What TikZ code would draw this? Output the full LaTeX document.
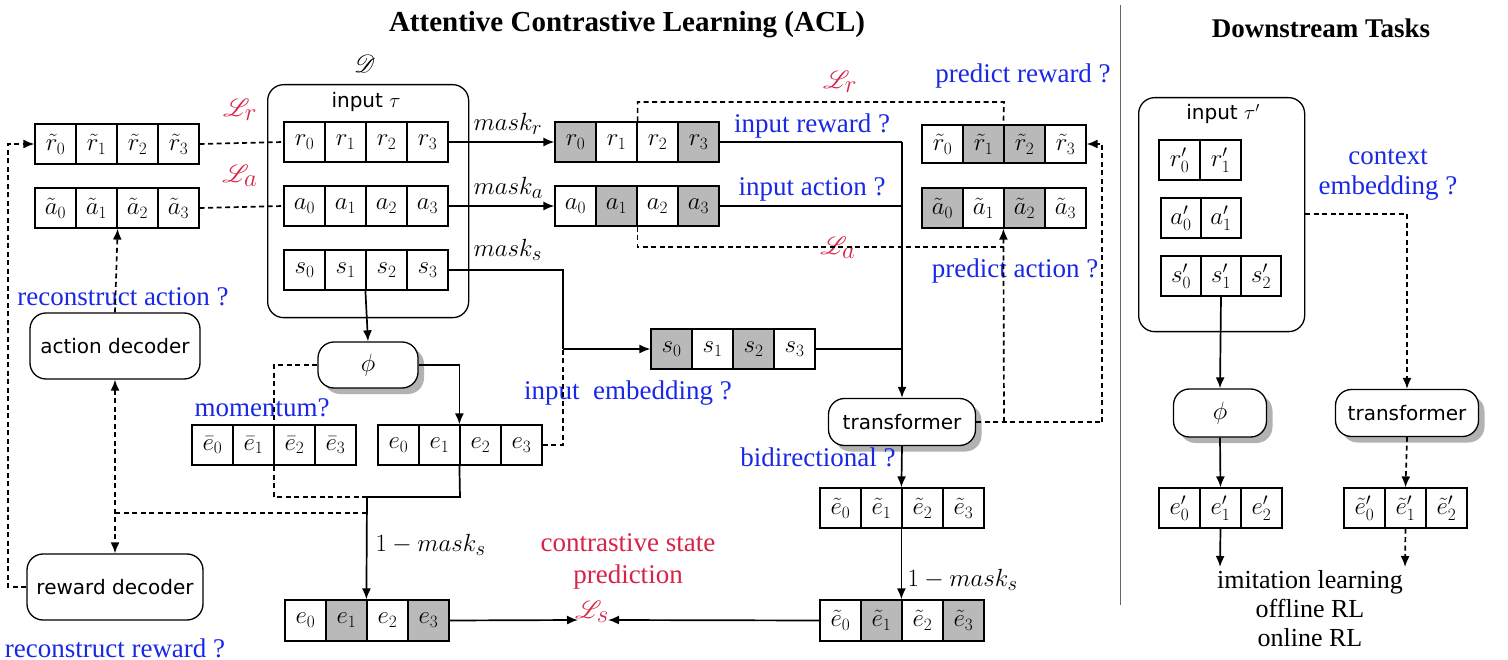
\documentclass[tikz,border=0pt]{standalone}
\usepackage{fontspec}
\usepackage{mathrsfs}
\setmainfont{Liberation Serif}
\newfontfamily\sansf{DejaVu Sans}
\usetikzlibrary{shadows,arrows.meta}
\definecolor{qblue}{RGB}{25,40,230}
\definecolor{lred}{RGB}{215,35,70}
\newcommand{\cellrow}[6]{%
  \foreach \lab/\sh [count=\i from 0] in {#6}{%
    \node[cell,minimum width=#4,minimum height=#5,fill=\sh] (#1\i) at ({#2+\i*#4+#4/2},{#3+#5/2}) {$\lab$};}}
\begin{document}
\begin{tikzpicture}[x=1pt,y=-1pt,
  cell/.style={draw,line width=1.2pt,inner sep=0pt,font=\fontsize{26}{28}\selectfont},
  box/.style={draw,line width=1.3pt,rounded corners=16pt,font=\sansf\fontsize{20}{24}\selectfont,fill=white},
  sbox/.style={box,drop shadow={shadow xshift=6pt,shadow yshift=-6pt,opacity=.6}},
  q/.style={text=qblue,font=\fontsize{27}{30}\selectfont},
  ls/.style={text=lred,font=\fontsize{36}{38}\selectfont},
  sl/.style={line width=1.7pt},
  dl/.style={line width=1.7pt,dash pattern=on 5pt off 3.5pt},
  ar/.style={-{Latex[length=11pt,width=9pt]}},
  lab/.style={font=\fontsize{28}{30}\selectfont}]
\useasboundingbox (0,0) rectangle (1508,660);
\fill[white] (0,0) rectangle (1508,660);
% titles
\node[font=\bfseries\fontsize{29}{32}\selectfont] (t1) at (627,25) {Attentive Contrastive Learning (ACL)};
\node[font=\bfseries\fontsize{27}{30}\selectfont] (t2) at (1321,28) {Downstream Tasks};
\draw[line width=0.9pt,gray!80!black] (1120,5) coordinate (sepa) -- (1120,605) coordinate (sepb);
% input box
\node[box,minimum width=201,minimum height=233,anchor=north west] (inbox) at (267,84) {};
\node[font=\sansf\fontsize{20}{24}\selectfont] (intau) at (366,102) {input $\tau$};
\node[font=\fontsize{32}{34}\selectfont] (D) at (365,64) {$\mathscr{D}$};
\cellrow{r}{284}{122}{41}{40}{r_0/white,r_1/white,r_2/white,r_3/white}
\cellrow{a}{284}{186}{41}{40}{a_0/white,a_1/white,a_2/white,a_3/white}
\cellrow{s}{284}{250}{41}{40}{s_0/white,s_1/white,s_2/white,s_3/white}
% left reconstructions
\cellrow{rt}{35}{124}{41}{40}{\tilde r_0/white,\tilde r_1/white,\tilde r_2/white,\tilde r_3/white}
\cellrow{at}{35}{188}{41}{40}{\tilde a_0/white,\tilde a_1/white,\tilde a_2/white,\tilde a_3/white}
\node[ls] (Lr1) at (240,110) {$\mathscr{L}_r$};
\node[ls] (La1) at (240,176) {$\mathscr{L}_a$};
\draw[dl] (rt3.east) -- (r0.west);
\draw[dl] (at3.east) -- (a0.west);
% masked rows
\cellrow{mr}{555}{122}{41}{40}{r_0/gray!55,r_1/white,r_2/white,r_3/gray!55}
\cellrow{ma}{555}{186}{41}{40}{a_0/white,a_1/gray!55,a_2/white,a_3/gray!55}
\cellrow{ms}{651}{329}{41}{40}{s_0/gray!55,s_1/white,s_2/gray!55,s_3/white}
\node[lab,anchor=west] (mkr) at (470,124) {$mask_r$};
\node[lab,anchor=west] (mka) at (470,188) {$mask_a$};
\node[lab,anchor=west] (mks) at (470,250) {$mask_s$};
\draw[sl,ar] (r3.east) -- (mr0.west);
\draw[sl,ar] (a3.east) -- (ma0.west);
\coordinate (sj) at (563,349);
\draw[sl] (s3.east) -| (sj);
\draw[sl,ar] (sj) -- (ms0.west);
% transformer
\node[sbox,minimum width=147,minimum height=47] (tf) at (902,422) {transformer};
\coordinate (tj) at (902,142);
\draw[sl] (mr3.east) -- (tj);
\draw[sl,ar] (tj) -- (tf.north);
\draw[sl] (ma3.east) -- (902,206);
\draw[sl] (ms3.east) -- (902,349);
\node[q] (qir) at (812,126) {input reward ?};
\node[q] (qia) at (812,189) {input action ?};
% right predictions
\cellrow{pr}{922}{125}{41}{38}{\tilde r_0/white,\tilde r_1/gray!55,\tilde r_2/gray!55,\tilde r_3/white}
\cellrow{pa}{922}{188}{41}{40}{\tilde a_0/gray!55,\tilde a_1/white,\tilde a_2/gray!55,\tilde a_3/white}
\node[q] (qpr) at (1023,76) {predict reward ?};
\node[q] (qpa) at (1015,271) {predict action ?};
\node[ls] (Lr2) at (840,82) {$\mathscr{L}_r$};
\node[ls] (La2) at (838,248) {$\mathscr{L}_a$};
\draw[dl] (mr1.north east) |- (1004,102) -- (pr2.north west);
\draw[dl] (ma1.south east) |- (1004,247);
\coordinate (tr1) at (1004,422);
\coordinate (tr2) at (1102,422);
\draw[dl] (tf.east) -- (tr2);
\draw[dl,ar] (tr1) -- (pa2.south west);
\draw[dl,ar] (tr2) |- (pr3.east);
% phi and embeddings
\node[sbox,minimum width=100,minimum height=46,font=\fontsize{26}{28}\selectfont] (phi) at (368,365) {$\phi$};
\draw[sl,ar] (s2.south west) -- (phi.north);
\cellrow{e}{378}{425}{41}{40}{e_0/white,e_1/white,e_2/white,e_3/white}
\cellrow{eb}{192}{425}{41}{40}{\bar e_0/white,\bar e_1/white,\bar e_2/white,\bar e_3/white}
\draw[sl,ar] (phi.east) -| (e2.north west);
\node[q] (qmom) at (262,408) {momentum?};
\node[q] (qemb) at (628,393) {input\ \ embedding ?};
\draw[dl] (e3.east) -| (sj);
% bottom
\cellrow{eo}{285}{600}{41}{41}{e_0/white,e_1/gray!55,e_2/white,e_3/gray!55}
\coordinate (j1) at (460,497);
\coordinate (j2) at (367,497);
\coordinate (j3) at (367,513);
\draw[sl] (e2.south west) -- (j1) -- (j2);
\draw[sl,ar] (j2) -- (eo2.north west);
\draw[dl] (phi.west) -| (274,497) -- (j2);
\node[lab,anchor=west] (m1) at (372,545) {$1-mask_s$};
% transformer outputs
\cellrow{et}{820}{488}{41}{40}{\tilde e_0/white,\tilde e_1/white,\tilde e_2/white,\tilde e_3/white}
\cellrow{em}{820}{600}{41}{41}{\tilde e_0/white,\tilde e_1/gray!55,\tilde e_2/white,\tilde e_3/gray!55}
\draw[sl,ar] (tf.south) -- (et2.north west);
\draw[sl,ar] (et2.south west) -- (em2.north west);
\node[q] (qbi) at (818,457) {bidirectional ?};
\node[lab,anchor=west] (m2) at (904,580) {$1-mask_s$};
\node[ls] (Ls) at (592,612) {$\mathscr{L}_s$};
\coordinate (lsw) at (578,620);
\coordinate (lse) at (608,620);
\draw[sl,ar] (eo3.east) -- (lsw);
\draw[sl,ar] (em0.west) -- (lse);
\node[text=lred,font=\fontsize{27}{30}\selectfont,align=center] (csp) at (628,561) {contrastive state\\[2pt]prediction};
% decoders
\node[box,minimum width=170,minimum height=66] (ad) at (115,346) {action decoder};
\node[box,minimum width=176,minimum height=66] (rd) at (115,587) {reward decoder};
\node[q] (qra) at (123,297) {reconstruct action ?};
\node[q] (qrr) at (115,648) {reconstruct reward ?};
\draw[dl,ar] (ad.north) -- (at1.south east);
\draw[dl,{Latex[length=11pt,width=9pt]}-{Latex[length=11pt,width=9pt]}] (ad.south) -- (rd.north);
\draw[dl] (115,513) -- (j3);
\draw[dl,ar] (rd.west) -| (8,144) -- (rt0.west);
% downstream
\node[box,minimum width=166,minimum height=234,anchor=north west] (inbox2) at (1138,97) {};
\node[font=\sansf\fontsize{20}{24}\selectfont] (intau2) at (1223,114) {input $\tau'$};
\cellrow{rp}{1159}{140}{41}{40}{r'_0/white,r'_1/white}
\cellrow{ap}{1161}{198}{40}{40}{a'_0/white,a'_1/white}
\cellrow{sp}{1161}{256}{40}{40}{s'_0/white,s'_1/white,s'_2/white}
\node[q,align=center] (qce) at (1388,175) {context\\embedding ?};
\node[sbox,minimum width=93,minimum height=48,font=\fontsize{26}{28}\selectfont] (phi2) at (1220,413) {$\phi$};
\node[sbox,minimum width=143,minimum height=47] (tf2) at (1407,413) {transformer};
\draw[sl,ar] (sp1.south) -- (phi2.north);
\draw[dl,ar] (inbox2.east |- 0,214) -| (tf2.north);
\cellrow{ep}{1159}{488}{41}{40}{e'_0/white,e'_1/white,e'_2/white}
\cellrow{etp}{1344}{488}{41}{40}{\tilde e'_0/white,\tilde e'_1/white,\tilde e'_2/white}
\draw[sl,ar] (phi2.south) -- (ep1.north);
\draw[dl,ar] (tf2.south) -- (etp1.north);
\coordinate (o1) at (1220,567);
\coordinate (o2) at (1405,567);
\draw[sl,ar] (ep1.south) -- (o1);
\draw[dl,ar] (etp1.south) -- (o2);
\node[font=\fontsize{26}{29}\selectfont,align=center] (dt) at (1310,609) {imitation learning\\offline RL\\online RL};
\end{tikzpicture}
\end{document}
